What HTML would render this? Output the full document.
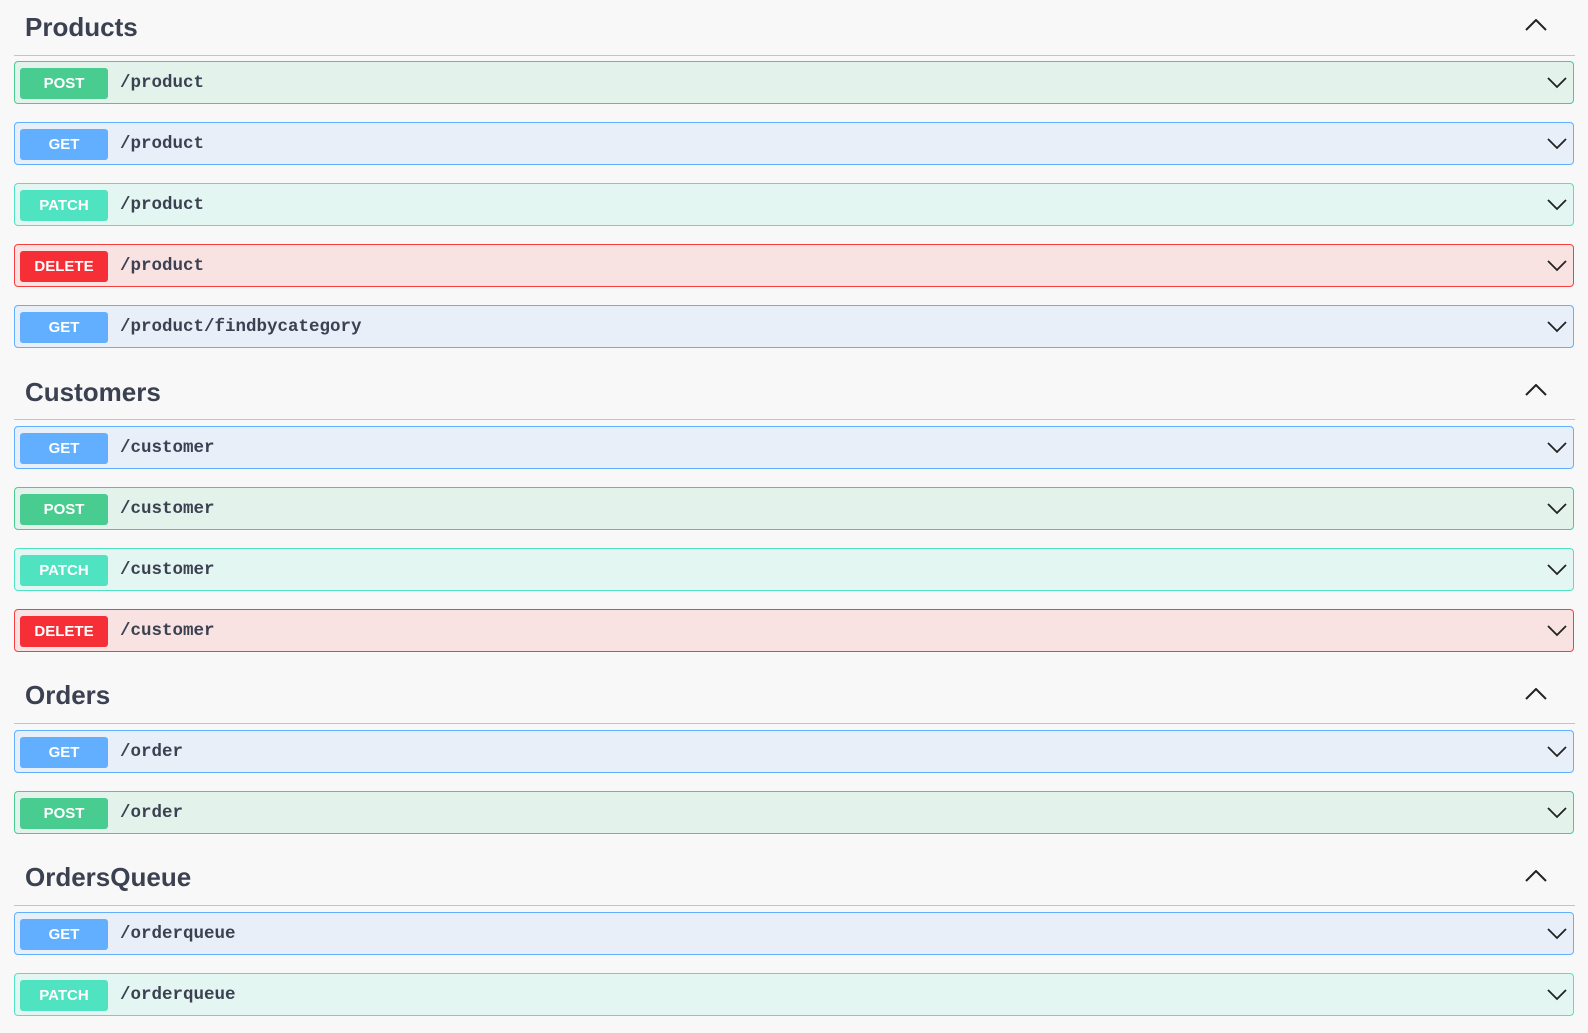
<!DOCTYPE html>
<html><head><meta charset="utf-8"><style>
body{margin:0;width:1588px;height:1033px;background:#f8f8f8;position:relative;overflow:hidden;font-family:"Liberation Sans",sans-serif}
.t{position:absolute;left:25px;font-size:26px;font-weight:bold;color:#3b4151;line-height:30px}
.ln{position:absolute;left:14px;width:1561px;height:1px;background:#c4c4c4}
.up{position:absolute;left:1525px}
.r{position:absolute;left:14px;width:1558px;height:41px;border:1px solid;border-radius:4px}
.b{position:absolute;left:5px;top:6px;width:88px;height:31px;border-radius:3px;color:#fff;font-weight:bold;font-size:15px;text-align:center;line-height:31px}
.p{position:absolute;left:105px;top:0;line-height:42px;font-family:"Liberation Mono",monospace;font-weight:bold;font-size:17.5px;color:#3b4151}
.d{position:absolute;right:6px;top:15px}
.post{border-color:#49cc90;background:#e3f3eb}.post .b{background:#49cc90}
.get{border-color:#61affe;background:#e8eff9}.get .b{background:#61affe}
.patch{border-color:#50e3c2;background:#e3f6f1}.patch .b{background:#50e3c2}
.del{border-color:#f93e3e;background:#f8e2e2}.del .b{background:#f62f36}
</style></head><body>
<div class="t" style="top:12px">Products</div><div class="ln" style="top:55px"></div>
<svg class="up" style="top:19px" width="22" height="12"><polyline points="1,11 11,1 21,11" fill="none" stroke="#222" stroke-width="2"/></svg>
<div class="r post" style="top:61px"><div class="b">POST</div><div class="p">/product</div><svg class="d" width="20" height="12"><polyline points="1,1 10,10 19,1" fill="none" stroke="#222" stroke-width="1.8"/></svg></div>
<div class="r get" style="top:122px"><div class="b">GET</div><div class="p">/product</div><svg class="d" width="20" height="12"><polyline points="1,1 10,10 19,1" fill="none" stroke="#222" stroke-width="1.8"/></svg></div>
<div class="r patch" style="top:183px"><div class="b">PATCH</div><div class="p">/product</div><svg class="d" width="20" height="12"><polyline points="1,1 10,10 19,1" fill="none" stroke="#222" stroke-width="1.8"/></svg></div>
<div class="r del" style="top:244px"><div class="b">DELETE</div><div class="p">/product</div><svg class="d" width="20" height="12"><polyline points="1,1 10,10 19,1" fill="none" stroke="#222" stroke-width="1.8"/></svg></div>
<div class="r get" style="top:305px"><div class="b">GET</div><div class="p">/product/findbycategory</div><svg class="d" width="20" height="12"><polyline points="1,1 10,10 19,1" fill="none" stroke="#222" stroke-width="1.8"/></svg></div>

<div class="t" style="top:377px">Customers</div><div class="ln" style="top:419px"></div>
<svg class="up" style="top:384px" width="22" height="12"><polyline points="1,11 11,1 21,11" fill="none" stroke="#222" stroke-width="2"/></svg>
<div class="r get" style="top:426px"><div class="b">GET</div><div class="p">/customer</div><svg class="d" width="20" height="12"><polyline points="1,1 10,10 19,1" fill="none" stroke="#222" stroke-width="1.8"/></svg></div>
<div class="r post" style="top:487px"><div class="b">POST</div><div class="p">/customer</div><svg class="d" width="20" height="12"><polyline points="1,1 10,10 19,1" fill="none" stroke="#222" stroke-width="1.8"/></svg></div>
<div class="r patch" style="top:548px"><div class="b">PATCH</div><div class="p">/customer</div><svg class="d" width="20" height="12"><polyline points="1,1 10,10 19,1" fill="none" stroke="#222" stroke-width="1.8"/></svg></div>
<div class="r del" style="top:609px"><div class="b">DELETE</div><div class="p">/customer</div><svg class="d" width="20" height="12"><polyline points="1,1 10,10 19,1" fill="none" stroke="#222" stroke-width="1.8"/></svg></div>

<div class="t" style="top:680px">Orders</div><div class="ln" style="top:723px"></div>
<svg class="up" style="top:688px" width="22" height="12"><polyline points="1,11 11,1 21,11" fill="none" stroke="#222" stroke-width="2"/></svg>
<div class="r get" style="top:730px"><div class="b">GET</div><div class="p">/order</div><svg class="d" width="20" height="12"><polyline points="1,1 10,10 19,1" fill="none" stroke="#222" stroke-width="1.8"/></svg></div>
<div class="r post" style="top:791px"><div class="b">POST</div><div class="p">/order</div><svg class="d" width="20" height="12"><polyline points="1,1 10,10 19,1" fill="none" stroke="#222" stroke-width="1.8"/></svg></div>

<div class="t" style="top:862px">OrdersQueue</div><div class="ln" style="top:905px"></div>
<svg class="up" style="top:870px" width="22" height="12"><polyline points="1,11 11,1 21,11" fill="none" stroke="#222" stroke-width="2"/></svg>
<div class="r get" style="top:912px"><div class="b">GET</div><div class="p">/orderqueue</div><svg class="d" width="20" height="12"><polyline points="1,1 10,10 19,1" fill="none" stroke="#222" stroke-width="1.8"/></svg></div>
<div class="r patch" style="top:973px"><div class="b">PATCH</div><div class="p">/orderqueue</div><svg class="d" width="20" height="12"><polyline points="1,1 10,10 19,1" fill="none" stroke="#222" stroke-width="1.8"/></svg></div>
</body></html>
